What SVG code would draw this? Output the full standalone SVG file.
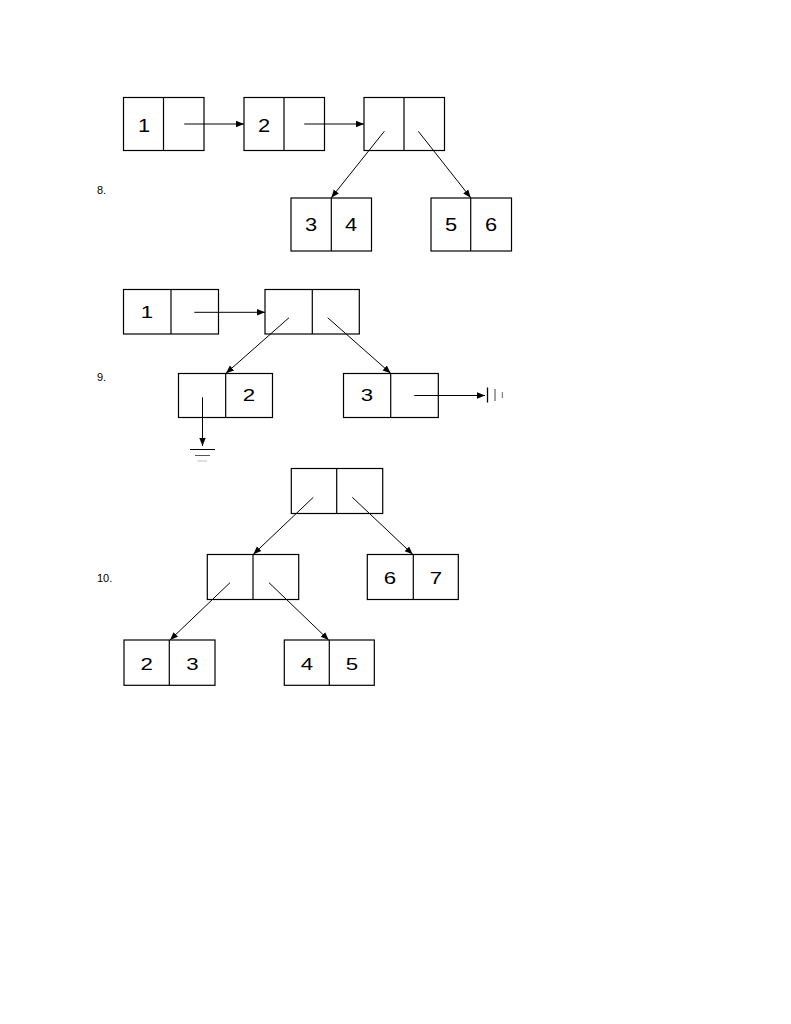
<svg xmlns="http://www.w3.org/2000/svg" width="791" height="1024" viewBox="0 0 791 1024">
<defs>
<marker id="ah" viewBox="0 0 10 10" refX="10" refY="5" markerWidth="8" markerHeight="8" markerUnits="userSpaceOnUse" orient="auto">
<path d="M0,1 L10,5 L0,9 Z" fill="#000"/>
</marker>
</defs>
<style>
.b{fill:#fff;stroke:#000;stroke-width:1.2}
.d{stroke:#000;stroke-width:1.2}
.c{stroke:#000;stroke-width:1;fill:none}
.t8{font-family:"Liberation Sans",Arial,sans-serif;font-size:19px;fill:#000;text-anchor:middle}
.t{font-family:"Liberation Sans",Arial,sans-serif;font-size:16.5px;fill:#000;text-anchor:middle}
.lbl{font-family:"Liberation Sans",Arial,sans-serif;font-size:11px;fill:#000}
</style>
<rect width="791" height="1024" fill="#fff"/>

<text class="lbl" x="97" y="194">8.</text>
<text class="lbl" x="97" y="381">9.</text>
<text class="lbl" x="97" y="582">10.</text>

<!-- Problem 8 -->
<g id="p8-n1"><rect class="b" x="123.5" y="97.5" width="80.5" height="53"/><line class="d" x1="163.5" y1="97.5" x2="163.5" y2="150.5"/><text class="t8" transform="translate(144,132) scale(1.15,1)">1</text></g>
<g id="p8-n2"><rect class="b" x="244" y="97.5" width="80.5" height="53"/><line class="d" x1="284" y1="97.5" x2="284" y2="150.5"/><text class="t8" transform="translate(264,132) scale(1.15,1)">2</text></g>
<g id="p8-n3"><rect class="b" x="364" y="97.5" width="80.5" height="53"/><line class="d" x1="404" y1="97.5" x2="404" y2="150.5"/></g>
<g id="p8-n4"><rect class="b" x="291" y="198" width="80.5" height="53"/><line class="d" x1="331.3" y1="198" x2="331.3" y2="251"/><text class="t8" transform="translate(311,231) scale(1.15,1)">3</text><text class="t8" transform="translate(351,231) scale(1.15,1)">4</text></g>
<g id="p8-n5"><rect class="b" x="431" y="198" width="80.5" height="53"/><line class="d" x1="470.7" y1="198" x2="470.7" y2="251"/><text class="t8" transform="translate(451,231) scale(1.15,1)">5</text><text class="t8" transform="translate(491,231) scale(1.15,1)">6</text></g>

<!-- Problem 9 -->
<g id="p9-n1"><rect class="b" x="123.5" y="289.5" width="95" height="44.5"/><line class="d" x1="171" y1="289.5" x2="171" y2="334"/><text class="t" transform="translate(147,318) scale(1.35,1)">1</text></g>
<g id="p9-n2"><rect class="b" x="265" y="289.5" width="94.3" height="44.5"/><line class="d" x1="312.3" y1="289.5" x2="312.3" y2="334"/></g>
<g id="p9-n3"><rect class="b" x="178.5" y="373.5" width="94" height="44"/><line class="d" x1="225.7" y1="373.5" x2="225.7" y2="417.5"/><text class="t" transform="translate(249,401) scale(1.35,1)">2</text></g>
<g id="p9-n4"><rect class="b" x="343.5" y="373.5" width="94.8" height="44"/><line class="d" x1="390.7" y1="373.5" x2="390.7" y2="417.5"/><text class="t" transform="translate(367,401) scale(1.35,1)">3</text></g>
<g id="p9-ground">
<line stroke="#000" stroke-width="1" x1="190" y1="449.5" x2="215" y2="449.5"/>
<line stroke="#555" stroke-width="1" x1="195" y1="455.5" x2="210" y2="455.5"/>
<line stroke="#bbb" stroke-width="1" x1="197.5" y1="461" x2="207" y2="461"/>
</g>
<g id="p9-null">
<line stroke="#000" stroke-width="1.3" x1="487.5" y1="387.5" x2="487.5" y2="402.5"/>
<line stroke="#444" stroke-width="1" x1="495" y1="389" x2="495" y2="401"/>
<line stroke="#666" stroke-width="1" x1="502.3" y1="392" x2="502.3" y2="398"/>
</g>

<!-- Problem 10 -->
<g id="p10-n1"><rect class="b" x="291.3" y="468.5" width="91.4" height="45"/><line class="d" x1="336.7" y1="468.5" x2="336.7" y2="513.5"/></g>
<g id="p10-n2"><rect class="b" x="207.3" y="554.5" width="91.4" height="45"/><line class="d" x1="253" y1="554.5" x2="253" y2="599.5"/></g>
<g id="p10-n3"><rect class="b" x="367.3" y="554.5" width="91" height="45"/><line class="d" x1="413.3" y1="554.5" x2="413.3" y2="599.5"/><text class="t" transform="translate(390,583.5) scale(1.35,1)">6</text><text class="t" transform="translate(436,583.5) scale(1.35,1)">7</text></g>
<g id="p10-n4"><rect class="b" x="124" y="640" width="91" height="45.3"/><line class="d" x1="169.3" y1="640" x2="169.3" y2="685.3"/><text class="t" transform="translate(146.7,669.5) scale(1.35,1)">2</text><text class="t" transform="translate(192.5,669.5) scale(1.35,1)">3</text></g>
<g id="p10-n5"><rect class="b" x="284.3" y="640" width="90" height="45.3"/><line class="d" x1="329.3" y1="640" x2="329.3" y2="685.3"/><text class="t" transform="translate(307,669.5) scale(1.35,1)">4</text><text class="t" transform="translate(352,669.5) scale(1.35,1)">5</text></g>

<g id="connectors">
<line class="c" marker-end="url(#ah)" x1="184.3" y1="124" x2="244" y2="124"/>
<line class="c" marker-end="url(#ah)" x1="304.3" y1="124" x2="364" y2="124"/>
<line class="c" marker-end="url(#ah)" x1="384.3" y1="131.3" x2="331.3" y2="197.7"/>
<line class="c" marker-end="url(#ah)" x1="418.3" y1="131.3" x2="470.7" y2="197.7"/>

<line class="c" marker-end="url(#ah)" x1="194.3" y1="312.3" x2="265" y2="312.3"/>
<line class="c" marker-end="url(#ah)" x1="289" y1="317.7" x2="226" y2="373.3"/>
<line class="c" marker-end="url(#ah)" x1="327.7" y1="317.7" x2="390.7" y2="373.3"/>
<line class="c" marker-end="url(#ah)" x1="202.5" y1="397.3" x2="202.5" y2="446"/>
<line class="c" marker-end="url(#ah)" x1="414.3" y1="395.5" x2="485" y2="395.5"/>

<line class="c" marker-end="url(#ah)" x1="313.3" y1="497.3" x2="253.3" y2="554.3"/>
<line class="c" marker-end="url(#ah)" x1="352.3" y1="497.3" x2="412.7" y2="554.3"/>
<line class="c" marker-end="url(#ah)" x1="230" y1="582.7" x2="170" y2="640"/>
<line class="c" marker-end="url(#ah)" x1="269" y1="582.7" x2="328.7" y2="640"/>
</g>
</svg>
